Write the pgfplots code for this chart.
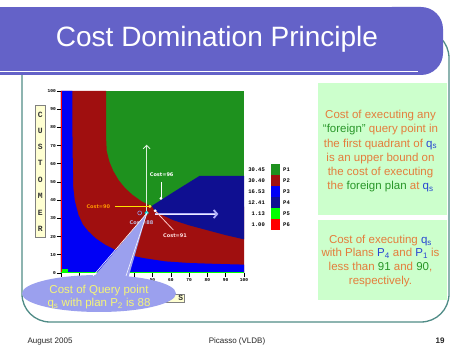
\documentclass[border=0pt]{standalone}
\usepackage{fontspec}
\setmainfont{Liberation Sans}
\setmonofont{Liberation Mono}
\newfontfamily\plotfont{DejaVu Sans}
\usepackage{pgfplots}
\pgfplotsset{compat=1.18}
\usetikzlibrary{arrows.meta}
\definecolor{banner}{RGB}{100,98,200}
\definecolor{frameteal}{RGB}{80,140,135}
\definecolor{boxgreen}{RGB}{204,255,204}
\definecolor{otext}{RGB}{228,125,60}
\definecolor{gtext}{RGB}{40,150,40}
\definecolor{btext}{RGB}{40,70,210}
\definecolor{callout}{RGB}{155,160,238}
\definecolor{ctext}{RGB}{245,245,120}
\definecolor{pone}{RGB}{30,145,30}
\definecolor{ptwo}{RGB}{160,15,15}
\definecolor{pthree}{RGB}{0,0,245}
\definecolor{pfour}{RGB}{15,15,145}
\definecolor{pfive}{RGB}{0,255,0}
\definecolor{psix}{RGB}{255,0,0}
\definecolor{labelbg}{RGB}{255,255,210}
\begin{document}
\begin{tikzpicture}
\useasboundingbox (0,0) rectangle (474pt,355pt);
\fill[white] (0,0) rectangle (474pt,355pt);
\begin{scope}[shift={(0,355pt)},x=1pt,y=-1pt]
  % frame
  \draw[frameteal, line width=1.3pt, rounded corners=28pt] (22,30) rectangle (449,322);
  % banner
  \fill[banner] (0,7) rectangle (410,75);
  \fill[banner, rounded corners=22pt] (370,7) rectangle (443,75);
  \draw[white, line width=1.2pt] (0,71.5) -- (418,71.5);
  \node[white, anchor=base, font=\fontsize{28}{30}\selectfont] at (217,47) {Cost Domination Principle};
  % green boxes
  \fill[boxgreen] (318,83) rectangle (447,215);
  \fill[boxgreen] (318,220) rectangle (447,300);
  \begin{scope}[every node/.style={anchor=base, font=\fontsize{11.5}{13}\selectfont, text=otext}]
    \node at (380.5,118.5) {Cost of executing any};
    \node at (380.5,132.8) {{\color{gtext}“foreign”} query point in};
    \node at (380.5,147.1) {the first quadrant of {\color{btext}q\textsubscript{s}}};
    \node at (380.5,161.4) {is an upper bound on};
    \node at (380.5,175.7) {the cost of executing};
    \node at (380.5,190) {the {\color{gtext}foreign plan} at {\color{btext}q\textsubscript{s}}};
    \node at (380.5,243.5) {Cost of executing {\color{btext}q\textsubscript{s}}};
    \node at (380.5,257) {with Plans {\color{btext}P\textsubscript{4}} and {\color{btext}P\textsubscript{1}} is};
    \node at (380.5,271) {less than {\color{gtext}91} and {\color{gtext}90},};
    \node at (380.5,285) {respectively.};
  \end{scope}
  % legend
  \fill[pone]   (270.5,164.5) rectangle (280,175.5);
  \fill[ptwo]   (270.5,175.5) rectangle (280,186.5);
  \fill[pthree] (270.5,186.5) rectangle (280,197.5);
  \fill[pfour]  (270.5,197.5) rectangle (280,208.5);
  \fill[pfive]  (270.5,208.5) rectangle (280,219.5);
  \fill[psix]   (270.5,219.5) rectangle (280,230.5);
  \begin{scope}[every node/.style={font=\fontsize{5.5}{6}\selectfont\ttfamily\bfseries, inner sep=0pt}]
    \node[anchor=east] at (265,170) {30.45};
    \node[anchor=east] at (265,181) {30.40};
    \node[anchor=east] at (265,192) {16.53};
    \node[anchor=east] at (265,203) {12.41};
    \node[anchor=east] at (265,214) {1.13};
    \node[anchor=east] at (265,225) {1.00};
    \node[anchor=west] at (283,170) {P1};
    \node[anchor=west] at (283,181) {P2};
    \node[anchor=west] at (283,192) {P3};
    \node[anchor=west] at (283,203) {P4};
    \node[anchor=west] at (283,214) {P5};
    \node[anchor=west] at (283,225) {P6};
  \end{scope}
  % y label
  \draw[gray, fill=labelbg] (35,105) rectangle (45.5,237);
  \begin{scope}[every node/.style={font=\fontsize{8}{8}\selectfont\ttfamily\bfseries, text=black!80, inner sep=0pt}]
    \node at (40.2,115) {C};
    \node at (40.2,130.5) {U};
    \node at (40.2,146.5) {S};
    \node at (40.2,163) {T};
    \node at (40.2,179.5) {O};
    \node at (40.2,196) {M};
    \node at (40.2,212.5) {E};
    \node at (40.2,228.5) {R};
  \end{scope}
  % footer
  \node[anchor=base, font=\fontsize{8}{9}\selectfont, text=black!85] at (50,344) {August 2005};
  \node[anchor=base, font=\fontsize{8}{9}\selectfont, text=black!85] at (237,344) {Picasso (VLDB)};
  \node[anchor=base, font=\fontsize{8}{9}\selectfont\bfseries, text=black!85] at (440,344) {19};
\end{scope}

\begin{axis}[
  at={(61pt,82pt)}, anchor=south west,
  scale only axis, width=183pt, height=182pt,
  xmin=0, xmax=100, ymin=0, ymax=100,
  axis line style={draw=none},
  tick align=outside, major tick length=4pt,
  tick style={black, line width=0.6pt},
  xtick pos=bottom, ytick pos=left,
  xtick={0,10,20,30,40,50,60,70,80,90,100},
  ytick={0,10,20,30,40,50,60,70,80,90,100},
  xticklabels={0,10,20,30,40,50,60,70,80,90,100},
  yticklabels={0,10,20,30,40,50,60,70,80,90,100},
  ticklabel style={font=\fontsize{4.5}{5}\selectfont\ttfamily\bfseries, inner sep=1pt},
  clip=false,
]
% P1 green everywhere
\addplot[fill=pone, draw=none] coordinates {(0,0) (100,0) (100,100) (0,100)};
% P2 red
\addplot[fill=ptwo, draw=none] coordinates {(0,0) (0,100) (24.6,100) (24.6,75) (25,67) (26.5,61) (28.6,56) (31.5,51) (35,46.7) (39,43) (44,39.4) (48,37.3) (50.5,36.4) (100,36.4) (100,0)};
% P4 navy
\addplot[fill=pfour, draw=none] coordinates {(49.5,36.8) (62,44.8) (75.6,53.3) (100,53.3) (100,18.5) (90,20.8) (79.6,23.6) (70,26.2) (61.4,29) (55,32) (51,34.6)};
% P3 blue
\addplot[fill=pthree, draw=none] coordinates {(0,0) (0,100) (6.2,100) (6.3,70) (6.7,47) (7.5,40) (9.5,32) (12,26.5) (14.9,22.9) (19,19) (24,15.6) (30,12.5) (36.8,10) (45,8.2) (56.8,6.4) (70,5.5) (85,5) (100,4.6) (100,0)};
% P6 red strip on left, P5 green strip at bottom
\addplot[fill=psix, draw=none] coordinates {(0,0) (0,100) (0.8,100) (0.8,0)};
\addplot[fill=pfive, draw=none] coordinates {(0,0) (100,0) (100,0.8) (0,0.8)};
\addplot[fill=pfive, draw=none] coordinates {(0.8,0.8) (4,0.8) (4,2) (0.8,2)};
% arrows
\addplot[draw={rgb,255:red,220;green,240;blue,220}, line width=0.9pt, -{Straight Barb[length=3.5pt,width=7pt]}] coordinates {(46.8,34) (46.8,70.5)};
\addplot[draw={rgb,255:red,175;green,175;blue,250}, line width=1.8pt, -{Straight Barb[length=3.5pt,width=8pt]}] coordinates {(51.4,32.4) (86,32.4)};
\addplot[draw={rgb,255:red,235;green,235;blue,255}, line width=0.5pt] coordinates {(51.4,32.4) (84,32.4)};
% cost=90
\addplot[draw={rgb,255:red,255;green,225;blue,0}, line width=1pt] coordinates {(29.5,36.6) (48.6,36.6)};
\addplot[only marks, mark=*, mark size=1.3pt, color={rgb,255:red,230;green,240;blue,60}] coordinates {(48.6,36.6)};
% cost=96
\addplot[draw=white, line width=0.8pt] coordinates {(54.6,50) (54.6,41)};
\addplot[only marks, mark=*, mark size=1.2pt, color=white] coordinates {(54.6,41)};
% cost=91
\addplot[draw={rgb,255:red,255;green,200;blue,200}, line width=0.8pt] coordinates {(51.4,34.2) (61.4,23.6)};
\addplot[only marks, mark=*, mark size=1.2pt, color=white] coordinates {(51.4,34.2)};
% Q circle and query point
\addplot[only marks, mark=o, mark size=2pt, color={rgb,255:red,150;green,150;blue,220}, line width=0.6pt] coordinates {(43,33)};
\addplot[only marks, mark=*, mark size=1.8pt, color={rgb,255:red,0;green,220;blue,220}] coordinates {(46.8,33)};
% labels
\node[font=\fontsize{5}{6}\selectfont\plotfont\bfseries, text={rgb,255:red,255;green,150;blue,0}] at (axis cs:20.4,36.2) {Cost=90};
\node[font=\fontsize{5}{6}\selectfont\plotfont\bfseries, text=white] at (axis cs:55,53.8) {Cost=96};
\node[font=\fontsize{5}{6}\selectfont\plotfont\bfseries, text={rgb,255:red,255;green,225;blue,225}] at (axis cs:62.3,20.3) {Cost=91};
\node[font=\fontsize{5}{6}\selectfont\plotfont\bfseries, text={rgb,255:red,190;green,190;blue,225}] at (axis cs:44,27.5) {Cost=88};
\end{axis}

\begin{scope}[shift={(0,355pt)},x=1pt,y=-1pt]
  % x label box (mostly hidden)
  \node[draw=gray, fill=labelbg, anchor=east, inner sep=1.2pt, font=\fontsize{8}{8}\selectfont\ttfamily\bfseries, text=black!80] at (184.5,298) {\phantom{ORDER}S};
  % callout
  \fill[callout] (92,279) -- (128,279) -- (147,213) -- cycle;
  \fill[callout] (99,293.5) ellipse [x radius=77pt, y radius=18.5pt];
  \draw[white, line width=0.6pt] (93,276) -- (147,213) -- (126,276);
  \node[anchor=base, text=ctext, font=\fontsize{11.5}{13}\selectfont] at (99,294) {Cost of Query point};
  \node[anchor=base, text=ctext, font=\fontsize{11.5}{13}\selectfont] at (99,307) {q\textsubscript{s} with plan P\textsubscript{2} is 88};
\end{scope}
\end{tikzpicture}
\end{document}
